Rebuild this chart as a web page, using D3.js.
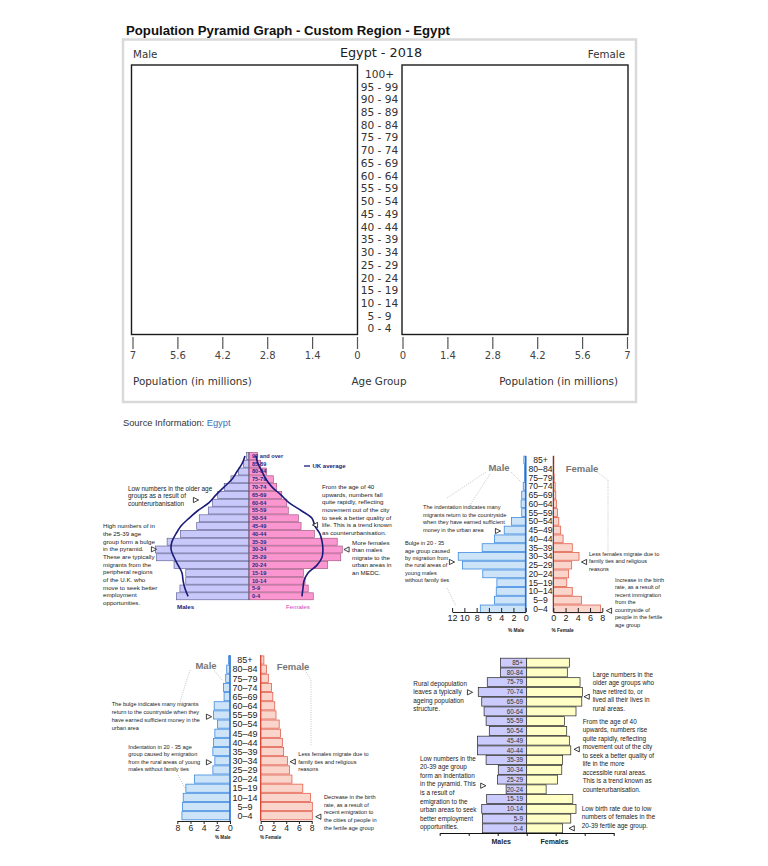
<!DOCTYPE html>
<html><head><meta charset="utf-8">
<script src="https://cdn.jsdelivr.net/npm/d3@7"></script>
<style>body{margin:0;background:#fff}svg{display:block}</style>
</head><body><svg id="c" width="768" height="866"></svg>
<script>
// ---------------- DATA ----------------
const mainTitle = "Population Pyramid Graph - Custom Region - Egypt";
const mainSubtitle = "Egypt - 2018";
const mainAges = ["100+","95 - 99","90 - 94","85 - 89","80 - 84","75 - 79","70 - 74","65 - 69","60 - 64","55 - 59","50 - 54","45 - 49","40 - 44","35 - 39","30 - 34","25 - 29","20 - 24","15 - 19","10 - 14","5 - 9","0 - 4"];
const mainTicks = [0, 1.4, 2.8, 4.2, 5.6, 7];
const mainMale = [];   // chart shows no bars
const mainFemale = [];

// Picture 1: UK pyramid (% of population)
const ukAges = ["90 and over","85-89","80-84","75-79","70-74","65-69","60-64","55-59","50-54","45-49","40-44","35-39","30-34","25-29","20-24","15-19","10-14","5-9","0-4"];
const ukMale   = [0.11,0.27,0.51,0.86,1.18,1.49,1.75,1.94,2.37,2.49,3.27,3.90,4.46,4.40,3.57,3.01,3.01,3.29,3.46];
const ukFemale = [0.40,0.56,0.84,1.16,1.32,1.56,1.80,1.87,2.35,2.48,3.11,4.20,4.44,4.37,3.75,2.59,2.67,2.82,3.06];
const ukAvgMale   = [0.19,0.33,0.57,0.81,1.19,1.57,1.90,2.43,2.86,3.24,3.48,3.67,3.71,3.57,3.38,3.19,3.14,3.05,2.90];
const ukAvgFemale = [0.33,0.43,0.62,0.81,1.10,1.52,1.90,2.48,3.00,3.14,3.38,3.48,3.52,3.48,3.24,2.81,2.62,2.57,2.52];

// Picture 2: urban pyramid (% male / % female)
const ages2 = ["85+","80–84","75–79","70–74","65–69","60–64","55–59","50–54","45–49","40–44","35–39","30–34","25–29","20–24","15–19","10–14","5–9","0–4"];
const male2   = [0.3,0.2,0.2,0.4,0.65,0.75,0.65,2.3,3.5,5.1,7.1,11.0,10.3,7.0,4.7,4.8,5.1,7.4];
const female2 = [0.1,0.1,0.15,0.3,0.4,0.5,0.7,0.9,1.2,1.6,3.1,4.2,3.0,2.5,2.2,3.1,4.6,7.7];
const ticksMale2 = [12,10,8,6,4,2,0];
const ticksFemale2 = [0,2,4,6,8];

// Picture 3: rural pyramid (% male / % female)
const ages3 = ages2;
const male3   = [0.25,0.5,0.65,1.0,0.9,2.4,2.5,1.9,2.3,2.5,2.6,2.3,2.6,5.4,6.7,7.1,7.2,7.3];
const female3 = [0.5,0.9,1.2,1.7,1.9,2.2,2.4,2.9,3.1,3.4,3.6,4.2,4.5,4.9,6.6,7.8,8.1,8.1];
const ticks3 = [8,6,4,2,0];
const ticksF3 = [0,2,4,6,8];

// Picture 4: rural UK pyramid
const ages4 = ["85+","80-84","75-79","70-74","65-69","60-64","55-59","50-54","45-49","40-44","35-39","30-34","25-29","20-24","15-19","10-14","5-9","0-4"];
const male4   = [0.90,0.90,1.36,1.67,1.55,1.47,1.40,1.29,1.70,1.70,1.40,0.98,1.01,0.71,1.38,1.55,1.52,1.52];
const female4 = [1.47,1.40,1.84,1.92,1.90,1.70,1.30,1.38,1.47,1.52,1.24,1.21,1.06,0.67,1.59,1.70,1.52,1.24];
const ticks4 = [-3,-2,-1,0,1,2,3];

// ---------------- DRAW ----------------
const svg = d3.select("#c");
const FDJ = "'DejaVu Sans', Verdana, sans-serif";
const FAR = "'Liberation Sans', Arial, sans-serif";

function note(x, y0, lh, size, lines, color) {
  const t = svg.append("text").attr("font-family", FAR).attr("font-size", size).attr("fill", color || "#222");
  lines.forEach((l, i) => t.append("tspan").attr("x", x).attr("y", y0 + i * lh + size * 0.35).text(l));
  return t;
}
function arrow(x, y, dir) {
  const s = 2.6, d = dir === "r" ? 1 : -1;
  svg.append("path")
    .attr("d", `M${x - d * s},${y - s} L${x + d * s},${y} L${x - d * s},${y + s} Z`)
    .attr("fill", "#fff").attr("stroke", "#111").attr("stroke-width", 0.8);
}
function dotted(pts) {
  svg.append("path").attr("d", d3.line()(pts)).attr("fill", "none")
    .attr("stroke", "#b5b5b5").attr("stroke-width", 0.8).attr("stroke-dasharray", "1,1.3");
}

// ===== Main chart =====
svg.append("text").attr("x", 126).attr("y", 34.5).attr("font-family", FAR).attr("font-weight", "bold")
  .attr("font-size", 13.2).attr("fill", "#111").text(mainTitle);
svg.append("rect").attr("x", 123).attr("y", 39.5).attr("width", 513).attr("height", 362.5)
  .attr("fill", "#fff").attr("stroke", "#d9d9d9").attr("stroke-width", 2.5);

svg.append("text").attr("x", 133).attr("y", 57.5).attr("font-family", FDJ).attr("font-size", 10.3).attr("fill", "#333").text("Male");
svg.append("text").attr("x", 625).attr("y", 57.5).attr("text-anchor", "end").attr("font-family", FDJ).attr("font-size", 10.3).attr("fill", "#333").text("Female");
svg.append("text").attr("x", 381).attr("y", 57).attr("text-anchor", "middle").attr("font-family", FDJ).attr("font-size", 12.8).attr("fill", "#222").text(mainSubtitle);

const yM = d3.scaleBand().domain(mainAges).range([67.6, 335]);
const xML = d3.scaleLinear().domain([7, 0]).range([132.5, 357]);
const xMR = d3.scaleLinear().domain([0, 7]).range([402.5, 627]);

svg.append("rect").attr("x", 131.5).attr("y", 65).attr("width", 226).attr("height", 269.5)
  .attr("fill", "none").attr("stroke", "#1b1b1b").attr("stroke-width", 1.4);
svg.append("rect").attr("x", 402).attr("y", 65).attr("width", 226).attr("height", 269.5)
  .attr("fill", "none").attr("stroke", "#1b1b1b").attr("stroke-width", 1.4);

svg.append("g").selectAll("rect").data(mainMale).join("rect")
  .attr("x", (d) => xML(d.v)).attr("y", d => yM(d.age)).attr("width", d => xML(0) - xML(d.v)).attr("height", yM.bandwidth()).attr("fill", "#4a7ebb");
svg.append("g").selectAll("rect").data(mainFemale).join("rect")
  .attr("x", xMR(0)).attr("y", d => yM(d.age)).attr("width", d => xMR(d.v) - xMR(0)).attr("height", yM.bandwidth()).attr("fill", "#be4b48");

svg.append("g").selectAll("text").data(mainAges).join("text")
  .attr("x", 379.5).attr("y", d => yM(d) + yM.bandwidth() / 2).attr("dy", "0.36em")
  .attr("text-anchor", "middle").attr("font-family", FDJ).attr("font-size", 10.6).attr("fill", "#333").text(d => d);

function mainAxis(scale) {
  const g = svg.append("g").attr("transform", "translate(0,337)")
    .call(d3.axisBottom(scale).tickValues(mainTicks).tickFormat(d => String(d)).tickSizeInner(12).tickSizeOuter(0).tickPadding(3));
  g.select(".domain").remove();
  g.attr("font-family", FDJ).attr("font-size", 10);
  g.selectAll("text").attr("fill", "#444");
  g.selectAll("line").attr("stroke", "#555").attr("stroke-width", 1.2);
}
mainAxis(xML); mainAxis(xMR);

svg.append("text").attr("x", 133).attr("y", 385).attr("font-family", FDJ).attr("font-size", 10.4).attr("fill", "#333").text("Population (in millions)");
svg.append("text").attr("x", 379).attr("y", 385).attr("text-anchor", "middle").attr("font-family", FDJ).attr("font-size", 10.4).attr("fill", "#333").text("Age Group");
svg.append("text").attr("x", 618).attr("y", 385).attr("text-anchor", "end").attr("font-family", FDJ).attr("font-size", 10.4).attr("fill", "#333").text("Population (in millions)");

const src = svg.append("text").attr("x", 123).attr("y", 426).attr("font-family", FAR).attr("font-size", 9.3).attr("fill", "#333");
src.append("tspan").text("Source Information: ");
src.append("tspan").attr("fill", "#3b72b8").text("Egypt");

// ===== Picture 1: UK =====
{
  const c = 249;
  const y = d3.scaleBand().domain(ukAges).range([452, 600.2]);
  const x = d3.scaleLinear().domain([0, 5]).range([0, 105]);
  const bh = y.bandwidth();
  svg.append("g").selectAll("rect").data(ukAges).join("rect")
    .attr("x", (d, i) => c - x(ukMale[i])).attr("y", d => y(d) + 0.4).attr("width", (d, i) => x(ukMale[i])).attr("height", bh - 0.8)
    .attr("fill", "#c8c8fa").attr("stroke", "#55558a").attr("stroke-width", 0.6);
  svg.append("g").selectAll("rect").data(ukAges).join("rect")
    .attr("x", c).attr("y", d => y(d) + 0.4).attr("width", (d, i) => x(ukFemale[i])).attr("height", bh - 0.8)
    .attr("fill", "#fb96d0").attr("stroke", "#9a4a7a").attr("stroke-width", 0.6);
  svg.append("line").attr("x1", c).attr("x2", c).attr("y1", 452).attr("y2", 600).attr("stroke", "#555").attr("stroke-width", 0.6);
  svg.append("g").selectAll("text").data(ukAges).join("text")
    .attr("x", c + 3).attr("y", d => y(d) + bh / 2).attr("dy", "0.35em")
    .attr("font-family", FAR).attr("font-weight", "bold").attr("font-size", 5.6).attr("fill", "#2a2a80").text(d => d);
  const lineM = d3.line().x(d => c - x(d)).y((d, i) => y(ukAges[i]) + bh / 2).curve(d3.curveCatmullRom);
  const lineF = d3.line().x(d => c + x(d)).y((d, i) => y(ukAges[i]) + bh / 2).curve(d3.curveCatmullRom);
  svg.append("path").attr("d", lineM(ukAvgMale)).attr("fill", "none").attr("stroke", "#1b1b7a").attr("stroke-width", 1.6);
  svg.append("path").attr("d", lineF(ukAvgFemale)).attr("fill", "none").attr("stroke", "#1b1b7a").attr("stroke-width", 1.6);
  svg.append("line").attr("x1", 304).attr("x2", 310).attr("y1", 466).attr("y2", 466).attr("stroke", "#1b1b7a").attr("stroke-width", 1.3);
  note(312.5, 466, 7, 6, ["UK average"], "#1b1b7a").attr("font-weight", "bold");
  note(128, 488.3, 7.5, 6.4, ["Low numbers in the older age", "groups as a result of", "counterurbanisation"]);
  arrow(196, 500, "r");
  note(322, 487, 7.6, 6.2, ["From the age of 40", "upwards, numbers fall", "quite rapidly, reflecting", "movement out of the city", "to seek a better quality of", "life. This is a trend known", "as counterurbanisation."]);
  arrow(315, 525, "l");
  note(352, 542.5, 7.6, 6.2, ["More females", "than males", "migrate to the", "urban areas in", "an MEDC."]);
  arrow(346.5, 549.5, "l");
  note(103, 526, 7.7, 6.2, ["High numbers of in", "the 25-39 age", "group form a bulge", "in the pyramid.", "These are typically", "migrants from the", "peripheral regions", "of the U.K. who", "move to seek better", "employment", "opportunities."]);
  arrow(154, 549.3, "r");
  note(177, 607, 7, 6.2, ["Males"], "#1b1b7a").attr("font-weight", "bold");
  note(286, 607, 7, 6.2, ["Females"], "#d83cb8");
}

// ===== Picture 2 =====
{
  const cm = 525.7, cf = 553.3;
  dotted([[486, 472], [447, 498]]);
  dotted([[490, 474], [470, 505]]);
  dotted([[511, 472], [521, 482]]);
  dotted([[597, 472], [608, 480], [608, 552]]);
  dotted([[447, 588], [456, 606]]);
  const y = d3.scaleBand().domain(ages2).range([455.6, 613.3]);
  const bh = y.bandwidth();
  const xm = d3.scaleLinear().domain([12, 0]).range([cm - 73.6, cm]);
  const xf = d3.scaleLinear().domain([0, 8]).range([cf, cf + 49]);
  svg.append("g").selectAll("rect").data(ages2).join("rect")
    .attr("x", (d, i) => xm(male2[i])).attr("y", d => y(d) + 0.5).attr("width", (d, i) => cm - xm(male2[i])).attr("height", bh - 1)
    .attr("fill", "#cde4f8").attr("stroke", "#3f8be0").attr("stroke-width", 0.8);
  svg.append("g").selectAll("rect").data(ages2).join("rect")
    .attr("x", cf).attr("y", d => y(d) + 0.5).attr("width", (d, i) => xf(female2[i]) - cf).attr("height", bh - 1)
    .attr("fill", "#fad5cc").attr("stroke", "#e2604f").attr("stroke-width", 0.8);
  svg.append("line").attr("x1", cm).attr("x2", cm).attr("y1", 456).attr("y2", 612).attr("stroke", "#2a6fd2").attr("stroke-width", 1.6);
  svg.append("line").attr("x1", cf).attr("x2", cf).attr("y1", 456).attr("y2", 612).attr("stroke", "#333").attr("stroke-width", 0.9);
  svg.append("g").selectAll("text").data(ages2).join("text")
    .attr("x", 540.5).attr("y", d => y(d) + bh / 2).attr("dy", "0.36em").attr("text-anchor", "middle")
    .attr("font-family", FAR).attr("font-size", 8.6).attr("fill", "#222").text(d => d);
  [[xm, ticksMale2], [xf, ticksFemale2]].forEach(([sc, tv]) => {
    const g = svg.append("g").attr("transform", "translate(0,612)")
      .call(d3.axisBottom(sc).tickValues(tv).tickFormat(d => String(d)).tickSizeInner(-4).tickSizeOuter(0).tickPadding(3));
    g.attr("font-family", FAR).attr("font-size", 9);
    g.selectAll("text").attr("fill", "#222");
    g.selectAll("line,path").attr("stroke", "#222");
  });
  note(508, 630, 7, 4.8, ["% Male"]).attr("font-weight", "bold");
  note(551.5, 630, 7, 4.8, ["% Female"]).attr("font-weight", "bold");
  svg.append("text").attr("x", 499).attr("y", 468).attr("dy", "0.35em").attr("text-anchor", "middle").attr("font-family", FAR).attr("font-weight", "bold").attr("font-size", 9.5).attr("fill", "#777").text("Male");
  svg.append("text").attr("x", 582).attr("y", 469).attr("dy", "0.35em").attr("text-anchor", "middle").attr("font-family", FAR).attr("font-weight", "bold").attr("font-size", 9.5).attr("fill", "#777").text("Female");
  note(423, 507, 7.6, 5.6, ["The indentation indicates many", "migrants return to the countryside", "when they have earned sufficient", "money in the urban area"]);
  arrow(498, 531, "r");
  note(405, 543.3, 7.4, 5.6, ["Bulge in 20 - 35", "age group caused", "by migration from", "the rural areas of", "young males", "without family ties"]);
  arrow(452, 562, "r");
  note(589, 554, 7.5, 5.6, ["Less females migrate due to", "family ties and religious", "reasons"]);
  arrow(584, 562, "l");
  note(615, 580, 7.5, 5.6, ["Increase in the birth", "rate, as a result of", "recent immigration", "from the", "countryside of", "people in the fertile", "age group"]);
  arrow(609, 610.7, "l");
}

// ===== Picture 3 =====
{
  const cm = 230, cf = 260.7;
  dotted([[190, 670], [180, 702]]);
  dotted([[214, 670], [222, 680]]);
  dotted([[305, 670], [311, 680], [311, 745]]);
  dotted([[178, 775], [186, 790]]);
  const y = d3.scaleBand().domain(ages3).range([655.4, 820.3]);
  const bh = y.bandwidth();
  const xm = d3.scaleLinear().domain([8, 0]).range([cm - 52.7, cm]);
  const xf = d3.scaleLinear().domain([0, 8]).range([cf, cf + 51]);
  svg.append("g").selectAll("rect").data(ages3).join("rect")
    .attr("x", (d, i) => xm(male3[i])).attr("y", d => y(d) + 0.5).attr("width", (d, i) => cm - xm(male3[i])).attr("height", bh - 1)
    .attr("fill", "#cde4f8").attr("stroke", "#3f8be0").attr("stroke-width", 0.8);
  svg.append("g").selectAll("rect").data(ages3).join("rect")
    .attr("x", cf).attr("y", d => y(d) + 0.5).attr("width", (d, i) => xf(female3[i]) - cf).attr("height", bh - 1)
    .attr("fill", "#fad5cc").attr("stroke", "#e2604f").attr("stroke-width", 0.8);
  svg.append("line").attr("x1", cm).attr("x2", cm).attr("y1", 655).attr("y2", 821).attr("stroke", "#2a6fd2").attr("stroke-width", 1.4);
  svg.append("line").attr("x1", cf).attr("x2", cf).attr("y1", 655).attr("y2", 821).attr("stroke", "#d94030").attr("stroke-width", 1.2);
  svg.append("g").selectAll("text").data(ages3).join("text")
    .attr("x", 245).attr("y", d => y(d) + bh / 2).attr("dy", "0.36em").attr("text-anchor", "middle")
    .attr("font-family", FAR).attr("font-size", 9).attr("fill", "#222").text(d => d);
  [[xm, ticks3], [xf, ticksF3]].forEach(([sc, tv]) => {
    const g = svg.append("g").attr("transform", "translate(0,821)")
      .call(d3.axisBottom(sc).tickValues(tv).tickFormat(d => String(d)).tickSizeInner(3).tickSizeOuter(0).tickPadding(0.5));
    g.attr("font-family", FAR).attr("font-size", 8.6);
    g.selectAll("text").attr("fill", "#222");
    g.selectAll("line,path").attr("stroke", "#222");
  });
  note(215, 837.5, 7, 4.6, ["% Male"]).attr("font-weight", "bold");
  note(260, 837.5, 7, 4.6, ["% Female"]).attr("font-weight", "bold");
  svg.append("text").attr("x", 206).attr("y", 666).attr("dy", "0.35em").attr("text-anchor", "middle").attr("font-family", FAR).attr("font-weight", "bold").attr("font-size", 9.5).attr("fill", "#777").text("Male");
  svg.append("text").attr("x", 293).attr("y", 666.5).attr("dy", "0.35em").attr("text-anchor", "middle").attr("font-family", FAR).attr("font-weight", "bold").attr("font-size", 9.5).attr("fill", "#777").text("Female");
  note(111.7, 704.3, 8, 5.6, ["The bulge indicates many migrants", "return to the countryside when they", "have earned sufficient money in the", "urban area"]);
  arrow(209, 716.7, "r");
  note(128.3, 746.7, 7.5, 5.6, ["Indentation in 20 - 35 age", "group caused by emigration", "from the rural areas of young", "males without family ties"]);
  arrow(209, 762.3, "r");
  note(298.3, 754.3, 7.4, 5.6, ["Less females migrate due to", "family ties and religious", "reasons"]);
  arrow(292.7, 761.7, "l");
  note(324, 796.7, 7.9, 5.6, ["Decrease in the birth", "rate, as a result of", "recent emigration to", "the cities of people in", "the fertile age group"]);
  arrow(318.3, 816.7, "l");
}

// ===== Picture 4 =====
{
  const y = d3.scaleBand().domain(ages4).range([657.8, 833.2]);
  const bh = y.bandwidth();
  const x = d3.scaleLinear().domain([-3, 3]).range([439.7, 613.7]);
  svg.append("g").selectAll("rect").data(ages4).join("rect")
    .attr("x", (d, i) => x(-male4[i])).attr("y", d => y(d) + 0.4).attr("width", (d, i) => x(0) - x(-male4[i])).attr("height", bh - 0.8)
    .attr("fill", "#cbcbfd").attr("stroke", "#222").attr("stroke-width", 0.7);
  svg.append("g").selectAll("rect").data(ages4).join("rect")
    .attr("x", x(0)).attr("y", d => y(d) + 0.4).attr("width", (d, i) => x(female4[i]) - x(0)).attr("height", bh - 0.8)
    .attr("fill", "#ffffc6").attr("stroke", "#222").attr("stroke-width", 0.7);
  svg.append("g").selectAll("text").data(ages4).join("text")
    .attr("x", 523).attr("y", d => y(d) + bh / 2).attr("dy", "0.36em").attr("text-anchor", "end")
    .attr("font-family", FAR).attr("font-size", 6.4).attr("fill", "#333").text(d => d);
  const g = svg.append("g").attr("transform", "translate(0,833)")
    .call(d3.axisBottom(x).tickValues(ticks4).tickFormat("").tickSizeInner(3).tickSizeOuter(0));
  g.selectAll("line,path").attr("stroke", "#111");
  note(491.5, 842, 7, 7, ["Males"]).attr("font-weight", "bold");
  note(540.5, 842, 7, 7, ["Females"]).attr("font-weight", "bold");
  note(413.3, 683.3, 8.5, 6.4, ["Rural depopulation", "leaves a typically", "ageing population", "structure."]);
  arrow(470, 692.3, "r");
  note(592.7, 674.3, 8.6, 6.4, ["Large numbers in the", "older age groups who", "have retired to, or", "lived all their lives in", "rural areas."]);
  arrow(586.7, 696.7, "l");
  note(582.7, 721.7, 8.45, 6.4, ["From the age of 40", "upwards, numbers rise", "quite rapidly, reflecting", "movement out of the city", "to seek a better quality of", "life in the more", "accessible rural areas.", "This is a trend known as", "counterurbanisation."]);
  arrow(576.7, 749.3, "l");
  note(420, 758.3, 8.6, 6.4, ["Low numbers in the", "20-39 age group", "form an indentation", "in the pyramid. This", "is a result of", "emigration to the", "urban areas to seek", "better employment", "opportunities."]);
  arrow(483.3, 785.7, "r");
  note(581.7, 808.3, 8.8, 6.4, ["Low birth rate due to low", "numbers of females in the", "20-39 fertile age group."]);
  arrow(571.7, 828.3, "l");
}
</script></body></html>
